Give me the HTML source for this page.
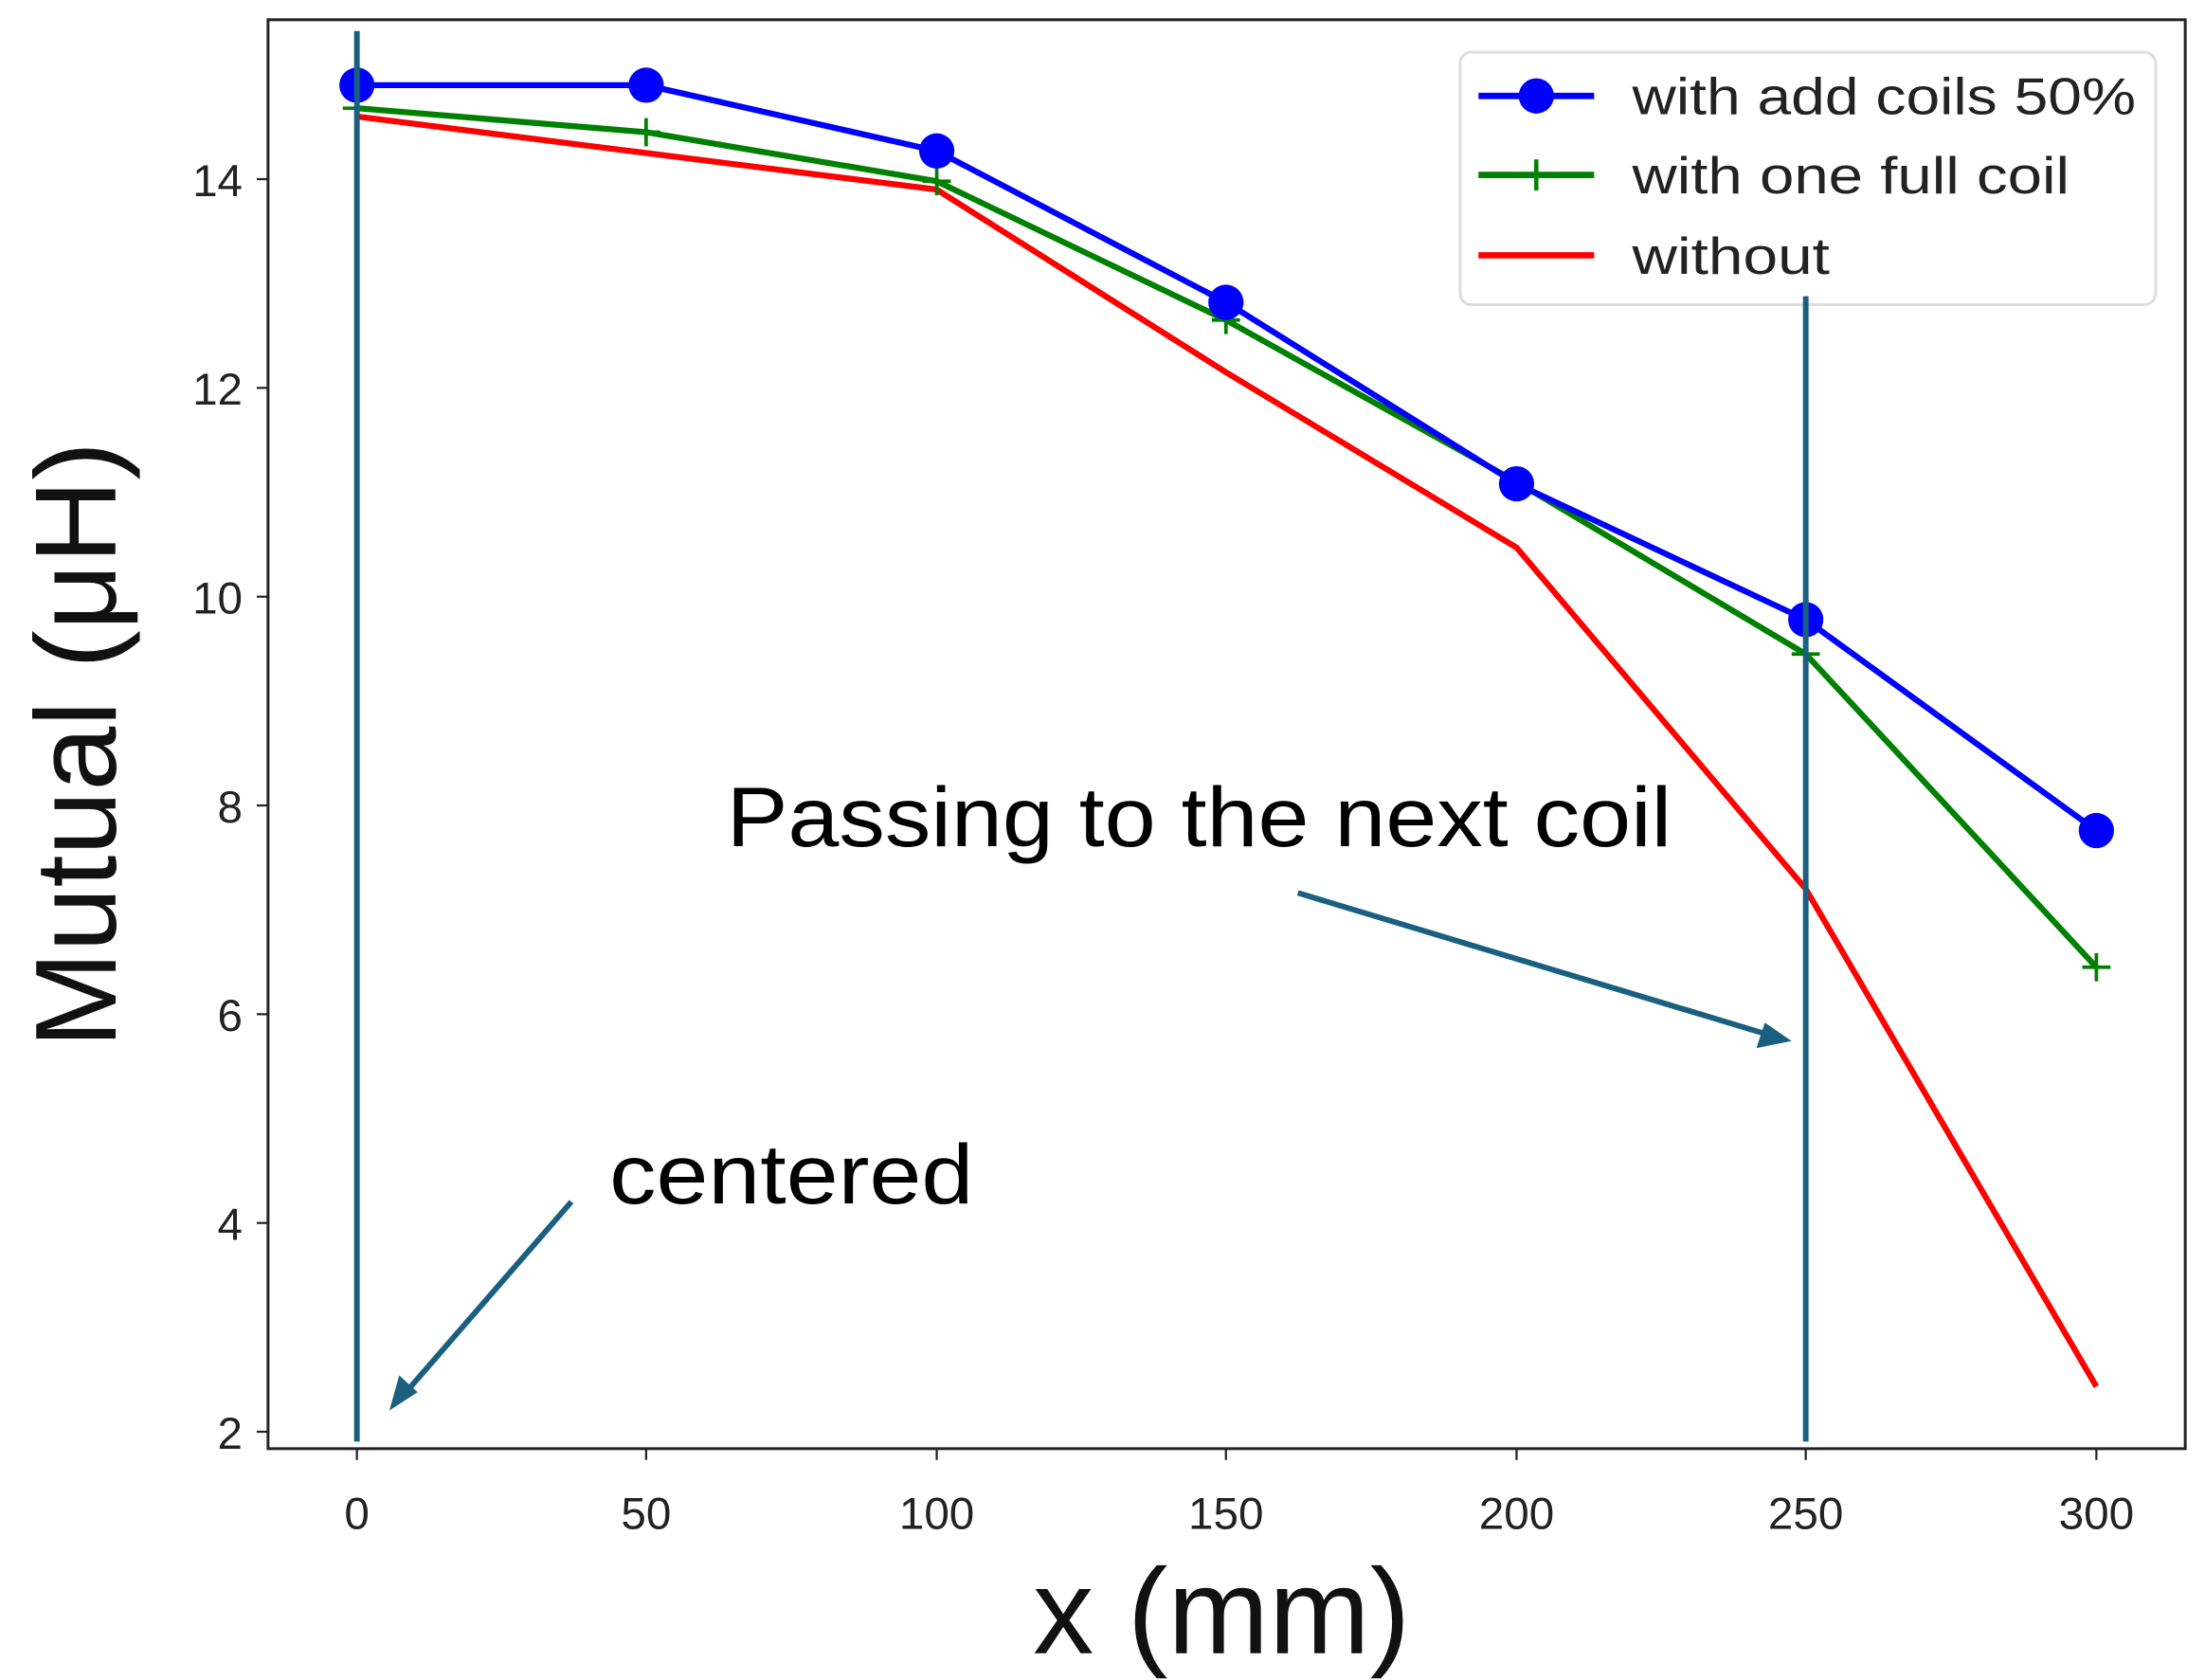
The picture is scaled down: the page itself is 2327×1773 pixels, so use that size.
<!DOCTYPE html>
<html><head><meta charset="utf-8"><style>html,body{margin:0;padding:0;background:#fff}svg{display:block}</style></head>
<body>
<svg width="2327" height="1773" viewBox="0 0 1563 1191" preserveAspectRatio="none" xmlns="http://www.w3.org/2000/svg" font-family="Liberation Sans, DejaVu Sans, sans-serif">
<rect width="1563" height="1191" fill="#fff"/>
<rect x="190" y="14" width="1359" height="1013" fill="none" stroke="#222" stroke-width="2"/>
<g stroke="#222" stroke-width="1.5">
<line x1="253" y1="1027" x2="253" y2="1035"/><line x1="458" y1="1027" x2="458" y2="1035"/><line x1="664" y1="1027" x2="664" y2="1035"/><line x1="869" y1="1027" x2="869" y2="1035"/><line x1="1075" y1="1027" x2="1075" y2="1035"/><line x1="1280" y1="1027" x2="1280" y2="1035"/><line x1="1486" y1="1027" x2="1486" y2="1035"/>
<line x1="182" y1="1015" x2="190" y2="1015"/><line x1="182" y1="867" x2="190" y2="867"/><line x1="182" y1="719" x2="190" y2="719"/><line x1="182" y1="571" x2="190" y2="571"/><line x1="182" y1="423" x2="190" y2="423"/><line x1="182" y1="275" x2="190" y2="275"/><line x1="182" y1="127" x2="190" y2="127"/>
</g>
<g font-size="32" fill="#222" text-anchor="middle">
<text x="253" y="1084">0</text><text x="458" y="1084">50</text><text x="664" y="1084">100</text><text x="869" y="1084">150</text><text x="1075" y="1084">200</text><text x="1280" y="1084">250</text><text x="1486" y="1084">300</text>
</g>
<g font-size="32" fill="#222" text-anchor="end">
<text x="172" y="1027">2</text><text x="172" y="879">4</text><text x="172" y="731">6</text><text x="172" y="583">8</text><text x="172" y="435">10</text><text x="172" y="287">12</text><text x="172" y="139">14</text>
</g>
<text x="866" y="1172" font-size="86" text-anchor="middle" fill="#111">x (mm)</text>
<text transform="translate(82,528) rotate(-90)" font-size="82" text-anchor="middle" fill="#111">Mutual (μH)</text>
<polyline fill="none" stroke="#ff0000" stroke-width="4.2" points="253,82.6 458,108.5 664,134.4 869,263.9 1075,388.2 1280,630.2 1486,983"/>
<polyline fill="none" stroke="#008000" stroke-width="4.2" points="253,76.7 458,93.7 664,128.5 869,226.9 1075,341.6 1280,463.7 1486,685.7"/>
<g stroke="#008000" stroke-width="2.5">
<path d="M243 76.7h20M253 66.7v20M448 93.7h20M458 83.7v20M654 128.5h20M664 118.5v20M859 226.9h20M869 216.9v20M1065 341.6h20M1075 331.6v20M1270 463.7h20M1280 453.7v20M1476 685.7h20M1486 675.7v20"/>
</g>
<polyline fill="none" stroke="#0000ff" stroke-width="4.2" points="253,60.4 458,60.4 664,107 869,214.3 1075,343 1280,439.3 1486,588.8"/>
<g fill="#0000ff">
<circle cx="253" cy="60.4" r="12.5"/><circle cx="458" cy="60.4" r="12.5"/><circle cx="664" cy="107" r="12.5"/><circle cx="869" cy="214.3" r="12.5"/><circle cx="1075" cy="343" r="12.5"/><circle cx="1280" cy="439.3" r="12.5"/><circle cx="1486" cy="588.8" r="12.5"/>
</g>
<rect x="1035" y="37" width="493" height="179" rx="8" fill="#fff" fill-opacity="0.85" stroke="#ddd" stroke-width="2"/>
<line x1="1048" y1="68" x2="1130" y2="68" stroke="#0000ff" stroke-width="4.5"/><circle cx="1089" cy="68" r="12.5" fill="#0000ff"/>
<line x1="1048" y1="124" x2="1130" y2="124" stroke="#008000" stroke-width="4.5"/><path d="M1089 113v22" stroke="#008000" stroke-width="3"/>
<line x1="1048" y1="181" x2="1130" y2="181" stroke="#ff0000" stroke-width="4.5"/>
<g font-size="37" fill="#222">
<text x="1157" y="81" textLength="357" lengthAdjust="spacingAndGlyphs">with add coils 50%</text>
<text x="1157" y="137" textLength="310" lengthAdjust="spacingAndGlyphs">with one full coil</text>
<text x="1157" y="194" textLength="140" lengthAdjust="spacingAndGlyphs">without</text>
</g>
<g stroke="#1a5f80" stroke-width="4">
<line x1="253" y1="22" x2="253" y2="1022"/>
<line x1="1280" y1="210" x2="1280" y2="1022"/>
<line x1="920" y1="633" x2="1255" y2="734"/>
<line x1="405" y1="852" x2="286" y2="989"/>
</g>
<polygon points="1270,738 1245,743 1251,725" fill="#1a5f80"/>
<polygon points="276,1000 283,975 296,987" fill="#1a5f80"/>
<text x="515" y="600" font-size="60" fill="#000" textLength="670" lengthAdjust="spacingAndGlyphs">Passing to the next coil</text>
<text x="432" y="853" font-size="60" fill="#000" textLength="258" lengthAdjust="spacingAndGlyphs">centered</text>
</svg>
</body></html>
